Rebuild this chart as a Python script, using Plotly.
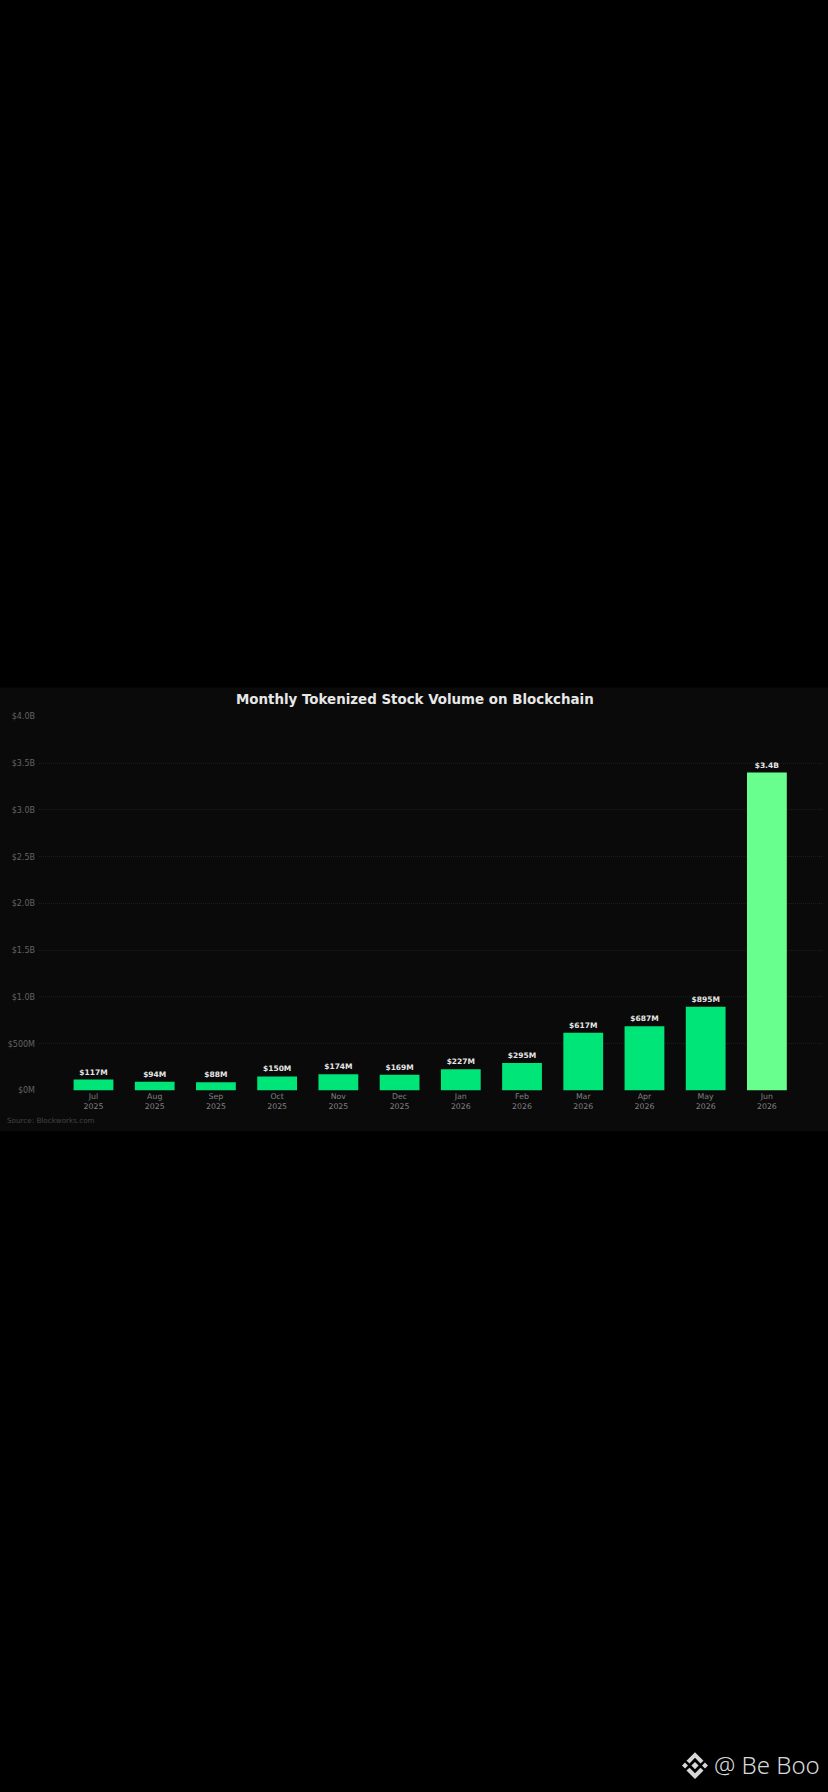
import plotly.graph_objs as go

W = 828
H = 1792

months = ['Jul<br>2025', 'Aug<br>2025', 'Sep<br>2025', 'Oct<br>2025', 'Nov<br>2025', 'Dec<br>2025',
          'Jan<br>2026', 'Feb<br>2026', 'Mar<br>2026', 'Apr<br>2026', 'May<br>2026', 'Jun<br>2026']
volume = [117, 94, 88, 150, 174, 169, 227, 295, 617, 687, 895, 3400]
labels = ['$117M', '$94M', '$88M', '$150M', '$174M', '$169M', '$227M', '$295M', '$617M', '$687M', '$895M', '$3.4B']
y_ticks = [0, 500, 1000, 1500, 2000, 2500, 3000, 3500, 4000]
y_labels = ['$0M', '$500M', '$1.0B', '$1.5B', '$2.0B', '$2.5B', '$3.0B', '$3.5B', '$4.0B']

bar_colors = ['#00e578'] * 11 + ['#69ff8f']


def px(x):
    return x / W


def py(y):
    return 1 - y / H


# binance style logo, drawn in pixels around its centre
def logo_path(cx, cy, pts):
    s = ''
    for shape in pts:
        s += 'M ' + ' L '.join(f'{px(cx + a)} {py(cy + b)}' for a, b in shape) + ' Z '
    return s


logo = [
    [(0, -3.6), (3.6, 0), (0, 3.6), (-3.6, 0)],
    [(-10, -3), (-7, 0), (-10, 3), (-13, 0)],
    [(10, -3), (13, 0), (10, 3), (7, 0)],
    [(0, -13.5), (8.5, -5), (5.5, -2.2), (0, -7.8), (-5.5, -2.2), (-8.5, -5)],
    [(0, 13.5), (-8.5, 5), (-5.5, 2.2), (0, 7.8), (5.5, 2.2), (8.5, 5)],
]

fig = go.Figure()
fig.add_trace(go.Bar(x=months, y=volume, marker_color=bar_colors, marker_line_width=0, width=0.65,
                     text=labels, textposition='outside', cliponaxis=False,
                     textfont=dict(family='DejaVu Sans', size=7.5, color='#e6e6e6', weight='bold')))

fig.update_layout(
    width=W, height=H, margin=dict(l=0, r=0, t=0, b=0), showlegend=False,
    paper_bgcolor='#000000', plot_bgcolor='#0a0a0a',
    font=dict(family='DejaVu Sans'),
    shapes=[
        dict(type='rect', xref='paper', yref='paper', x0=0, x1=1, y0=py(1133), y1=py(687),
             fillcolor='#0a0a0a', line_width=0, layer='below'),
        dict(type='path', xref='paper', yref='paper', path=logo_path(695, 1770.5, logo),
             fillcolor='#d8d8d8', line_width=0),
    ],
    annotations=[
        dict(text='<b>Monthly Tokenized Stock Volume on Blockchain</b>', xref='paper', yref='paper',
             x=px(415), y=py(699), xanchor='center', yanchor='middle', showarrow=False,
             font=dict(size=13.4, color='#e8e8e8')),
        dict(text='Source: Blockworks.com', xref='paper', yref='paper', x=px(5), y=py(1122),
             xanchor='left', yanchor='middle', showarrow=False, font=dict(size=7.2, color='#454545')),
        dict(text='@ Be Boo', xref='paper', yref='paper', x=px(822), y=py(1769), xanchor='right',
             yanchor='middle', showarrow=False,
             font=dict(family='Noto Sans', size=24, color='#d8d8d8', weight=300)),
    ],
)
fig.update_xaxes(domain=[px(39), px(822)], range=[-0.89, 11.9], showgrid=False, zeroline=False,
                 showline=False, ticks='', tickangle=0,
                 tickfont=dict(size=7.8, color='#808080'))
fig.update_yaxes(domain=[py(1092), py(716)], range=[0, 4000], tickvals=y_ticks, ticktext=y_labels,
                 gridcolor='#1a1f1e', gridwidth=1, griddash='1px,1px', zeroline=False, showline=False,
                 ticks='', ticklabelstandoff=3, tickfont=dict(size=8, color='#636363'))

fig.write_html("out.html", config={'displayModeBar': False},
               post_script="document.body.style.margin='0';document.body.style.background='#000';document.body.style.overflow='hidden';")
